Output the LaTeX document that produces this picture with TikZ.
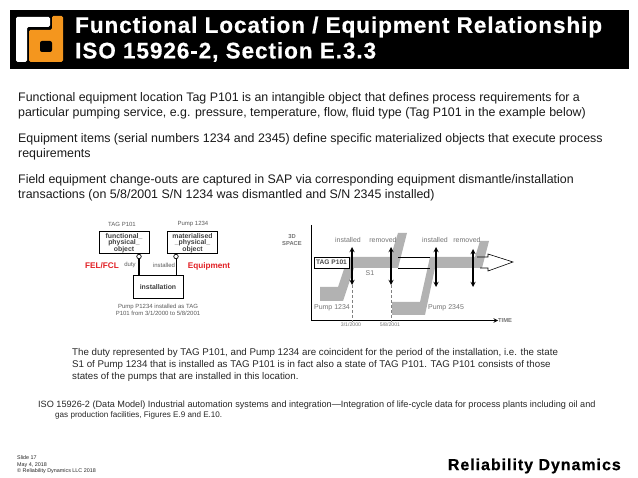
\documentclass[tikz,border=0pt]{standalone}
\usepackage{fontspec}
\setmainfont{Liberation Sans}
\newfontfamily\titlefont[LetterSpace=4.2,BoldFeatures={FakeBold=0.6}]{Liberation Sans}
\newfontfamily\brandfont[LetterSpace=6,BoldFeatures={FakeBold=0.6}]{Liberation Sans}
\definecolor{logoorange}{RGB}{244,150,30}
\definecolor{bandgray}{RGB}{178,178,178}
\definecolor{felred}{RGB}{225,30,35}
\tikzset{
  bodytext/.style={anchor=north west,inner sep=0pt,align=left,font=\fontsize{12.4}{15}\selectfont,text=black!90},
  notetext/.style={anchor=north west,inner sep=0pt,align=left,font=\fontsize{9.74}{12.2}\selectfont,text=black!85},
  objbox/.style={draw,line width=1pt,minimum width=50pt,minimum height=22pt,inner sep=0pt,align=center,font=\bfseries\fontsize{6.9}{6.7}\selectfont,text=black!75},
  smalltext/.style={inner sep=0pt,align=center,font=\fontsize{6}{7.5}\selectfont,text=black!65},
  plottext/.style={inner sep=0pt,align=center,font=\fontsize{7}{8}\selectfont,text=black!55},
  redtext/.style={inner sep=0pt,font=\bfseries\fontsize{8.2}{9}\selectfont,text=felred},
  ring/.style={circle,draw,line width=.7pt,fill=white,minimum size=4.5pt,inner sep=0pt},
  band/.style={fill=bandgray,draw=none},
  bigarrow/.style={<->,>=stealth,line width=1.3pt},
}
\begin{document}
\begin{tikzpicture}[x=1pt,y=-1pt]
    \useasboundingbox (0,0) rectangle (638,478);
    % title bar
    \fill[black] (10,10) rectangle (629,69);
    \fill[white,rounded corners=1.5pt] (16,17)--(50,17)--(50,27)--(27,27)--(27,62)--(16,62)--cycle;
    \fill[logoorange,rounded corners=1.5pt] (52,16)--(63,16)--(63,62)--(29,62)--(29,30)--(52,30)--cycle;
    \fill[black,rounded corners=2pt] (40,41) rectangle (52,52);
    \node[anchor=west,inner sep=0pt,text=white,font=\titlefont\bfseries\fontsize{22.5}{24}\selectfont] (titleone) at (75,27) {Functional Location / Equipment Relationship};
    \node[anchor=west,inner sep=0pt,text=white,font=\titlefont\bfseries\fontsize{22.5}{24}\selectfont] (titletwo) at (75,52) {ISO 15926-2, Section E.3.3};

    % paragraphs
    \node[bodytext] (parone) at (18,92.5) {Functional equipment location Tag P101 is an intangible object that defines process requirements for a\\particular pumping service, e.g. pressure, temperature, flow, fluid type (Tag P101 in the example below)};
    \node[bodytext] (partwo) at (18,133.5) {Equipment items (serial numbers 1234 and 2345) define specific materialized objects that execute process\\requirements};
    \node[bodytext] (parthree) at (18,174.5) {Field equipment change-outs are captured in SAP via corresponding equipment dismantle/installation\\transactions (on 5/8/2001 S/N 1234 was dismantled and S/N 2345 installed)};

    % left diagram
    \node[objbox] (funcbox) at (124,243) {functional\_\\physical\_\\object};
    \node[objbox] (matbox) at (192.5,243) {materialised\\\_physical\_\\object};
    \node[objbox,minimum height=23pt] (instbox) at (158,287.5) {installation};
    \node[ring] (dutyring) at (139,256.5) {};
    \node[ring] (instring) at (176,256.5) {};
    \draw[line width=1.3pt] (dutyring) -- (dutyring |- instbox.north);
    \draw[line width=.8pt] (instring) -- (instring |- instbox.north);
    \node[smalltext] (tagtop) at (122,224) {TAG P101};
    \node[smalltext] (pumptop) at (193,224) {Pump 1234};
    \node[smalltext] (dutylab) at (130,265) {duty};
    \node[smalltext] (instlab) at (164,265) {installed};
    \node[redtext] (fellab) at (102,266) {FEL/FCL};
    \node[redtext] (equiplab) at (209,266) {Equipment};
    \node[smalltext] (pumpnote) at (158,310) {Pump P1234 installed as TAG\\P101 from 3/1/2000 to 5/8/2001};

    % right diagram, gray bands first
    \fill[band] (320,287)--(338,287)--(348,257)--(398,257)--(398,268)--(354,268)--(343,301)--(320,301)--cycle;
    \fill[band] (387,268)--(398,233)--(407,233)--(398,268)--cycle;
    \fill[band] (392,302)--(420,302)--(430,257)--(475,257)--(480,241)--(489,241)--(482,268)--(435,268)--(425,315)--(392,315)--cycle;
    \draw[line width=.6pt] (398,257)--(430,257);
    \draw[line width=.6pt] (398,268)--(430,268);
    \draw[line width=.6pt] (477,257)--(488,257)--(488,254)--(513,262)--(488,271)--(488,268)--(480,268);
    \node[draw,fill=white,line width=.7pt,minimum width=35pt,minimum height=11pt,inner sep=0pt,font=\bfseries\fontsize{6.6}{7}\selectfont,text=black!70] (tagbox) at (331.5,262.5) {TAG P101};
    \draw[line width=1pt] (311,225)--(311,320.5)--(495,320.5);
    \draw[-stealth,line width=1pt] (490,320.5)--(498,320.5);
    \node[plottext,anchor=west,font=\bfseries\fontsize{5.8}{7}\selectfont] (timelab) at (498,320.5) {TIME};
    \node[plottext,font=\bfseries\fontsize{5.8}{7}\selectfont] (spacelab) at (292,240) {3D\\SPACE};
    \foreach \name/\xpos/\lab in {instone/348/installed,remone/383/removed,insttwo/435/installed,remtwo/467/removed}
        \node[plottext] (\name) at (\xpos,240) {\lab};
    \coordinate (arrowaup) at (352,247);
    \coordinate (arrowadn) at (352,285);
    \coordinate (arrowbup) at (391,247);
    \coordinate (arrowbdn) at (391,285);
    \coordinate (arrowcup) at (436,247);
    \coordinate (arrowcdn) at (436,287);
    \coordinate (arrowdup) at (473,249);
    \coordinate (arrowddn) at (473,287);
    \draw[bigarrow] (arrowaup) -- (arrowadn);
    \draw[bigarrow] (arrowbup) -- (arrowbdn);
    \draw[bigarrow] (arrowcup) -- (arrowcdn);
    \draw[bigarrow] (arrowdup) -- (arrowddn);
    \node[plottext,font=\fontsize{5.2}{5}\selectfont] (dateone) at (351,324.5) {3/1/2000};
    \node[plottext,font=\fontsize{5.2}{5}\selectfont] (datetwo) at (390,324.5) {5/8/2001};
    \draw[black!50,densely dashed,line width=.5pt] (arrowadn) -- (arrowadn |- dateone.north);
    \draw[black!50,densely dashed,line width=.5pt] (arrowbdn) -- (arrowbdn |- datetwo.north);
    \node[plottext] (sone) at (370,273) {S1};
    \node[plottext] (pumpone) at (332,308) {Pump 1234};
    \node[plottext] (pumptwo) at (446,308) {Pump 2345};

    % notes
    \node[notetext] (notepar) at (72,348) {The duty represented by TAG P101, and Pump 1234 are coincident for the period of the installation, i.e. the state\\S1 of Pump 1234 that is installed as TAG P101 is in fact also a state of TAG P101. TAG P101 consists of those\\states of the pumps that are installed in this location.};
    \node[notetext,font=\fontsize{9.14}{11}\selectfont] (isoone) at (38,400.5) {ISO 15926-2 (Data Model) Industrial automation systems and integration---Integration of life-cycle data for process plants including oil and};
    \node[notetext,font=\fontsize{8.1}{10}\selectfont] (isotwo) at (55,411.5) {gas production facilities, Figures E.9 and E.10.};

    % footer
    \node[anchor=north west,inner sep=0pt,align=left,font=\fontsize{5.4}{6.6}\selectfont,text=black!85] (footer) at (17,455.5) {Slide 17\\May 4, 2018\\© Reliability Dynamics LLC 2018};
    \node[anchor=east,inner sep=0pt,font=\brandfont\bfseries\fontsize{16}{18}\selectfont] (brand) at (621,466) {Reliability Dynamics};
\end{tikzpicture}
\end{document}
